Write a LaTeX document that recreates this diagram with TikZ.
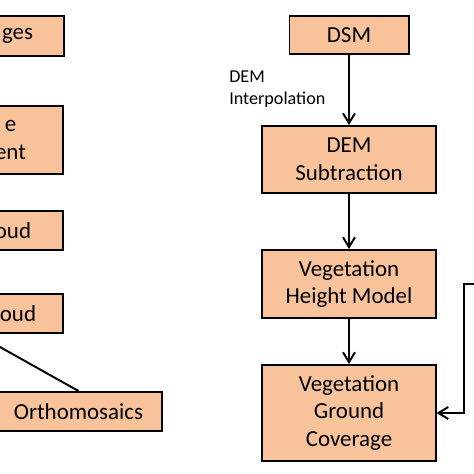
\documentclass[tikz,border=0pt]{standalone}
\usepackage{fontspec}
\setmainfont{Carlito}
\usetikzlibrary{arrows.meta}
\definecolor{peach}{HTML}{F8C39A}
\tikzset{
  box/.style={draw=black, fill=peach, line width=1.4pt, align=center,
    inner sep=0pt, font=\fontsize{16.3}{19.7}\selectfont},
  flow/.style={line width=1.4pt, -{Straight Barb[length=7pt,width=8.5pt]}},
  note/.style={align=left, inner sep=0pt, font=\fontsize{12.9}{15.6}\selectfont}
}
\begin{document}
\begin{tikzpicture}[x=0.025cm, y=-0.025cm]
  \useasboundingbox (0,0) rectangle (474,474);
  \clip (0,0) rectangle (474,474);
  % left column
  \node[box, minimum width=2.325cm, minimum height=1cm] (imgs) at (17.5,36) {ges};
  \node[box, minimum width=2.625cm, minimum height=1.7cm] (align) at (10.5,140) {e\\ent};
  \node[box, minimum width=2.5cm, minimum height=0.975cm] (sparse) at (13,230.5) {oud};
  \node[box, minimum width=2.25cm, minimum height=0.975cm] (dense) at (18,313.5) {oud};
  \node[box, minimum width=4.175cm, minimum height=0.975cm] (ortho) at (78.5,411.5) {Orthomosaics};
  \coordinate (tail) at (-25,333);
  \draw[line width=1.4pt] (tail) -- (ortho.north);
  % right column
  \node[box, minimum width=2.975cm, minimum height=0.95cm] (dsm) at (349,35) {DSM};
  \node[box, minimum width=4.325cm, minimum height=1.675cm] (sub) at (349,159.5) {DEM\\Subtraction};
  \node[box, minimum width=4.325cm, minimum height=1.7cm] (vhm) at (349,284) {Vegetation\\Height Model};
  \node[box, minimum width=4.325cm, minimum height=2.4cm] (vgc) at (349,413) {Vegetation\\Ground\\Coverage};
  \node[note, anchor=west] (interp) at (229,89) {DEM\\Interpolation};
  \draw[flow] (dsm) -- (sub);
  \draw[flow] (sub) -- (vhm);
  \draw[flow] (vhm) -- (vgc);
  \coordinate (back) at (480,284);
  \draw[flow] (back) -- ++(-16,0) |- (vgc.east);
\end{tikzpicture}
\end{document}
